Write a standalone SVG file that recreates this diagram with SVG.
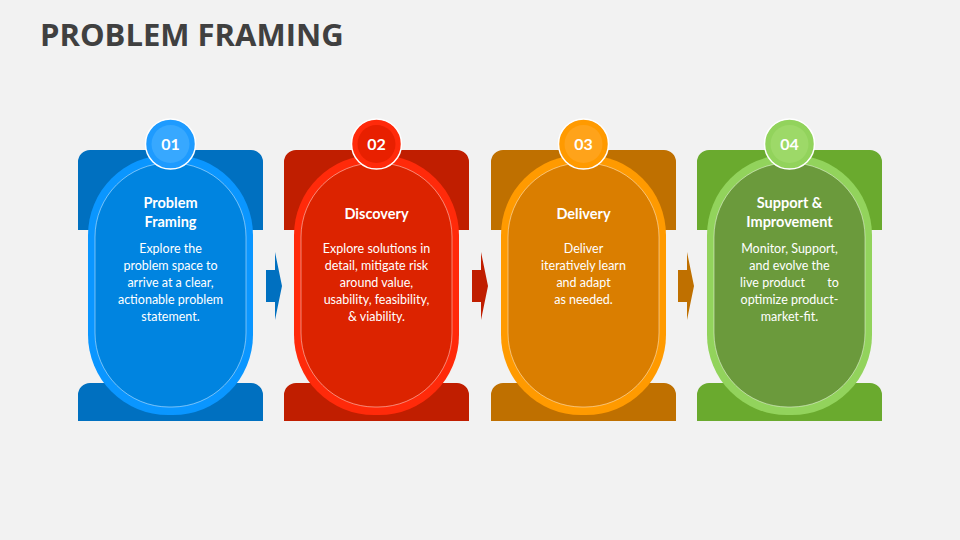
<svg xmlns="http://www.w3.org/2000/svg" width="960" height="540" viewBox="0 0 960 540">
<style>
text{font-family:Lato,"Open Sans","Liberation Sans",sans-serif;fill:#fff;text-anchor:middle}
.h{font-weight:bold;font-size:14.5px}
.b{font-size:12.5px}
.n{font-weight:bold;font-size:16px}
.in{fill:none;stroke:#fff;stroke-opacity:.45;stroke-width:1}
</style>
<defs>
<g id="card">
<path d="M0 162 a12 12 0 0 1 12 -12 h161 a12 12 0 0 1 12 12 v68 h-185z" class="bk"/>
<path d="M0 421 v-26 a12 12 0 0 1 12 -12 h161 a12 12 0 0 1 12 12 v26z" class="bk"/>
</g>
</defs>
<rect width="960" height="540" fill="#f2f2f2"/>
<text x="40" y="46" style="text-anchor:start;font-family:'Open Sans','Liberation Sans',sans-serif;font-weight:bold;font-size:31px;fill:#404040">PROBLEM FRAMING</text>
<g id="connectors">
<polygon points="266,270 275,270 275,252 282,286 275,320 275,302 266,302" fill="#0070C0"/>
<polygon points="472,270 481,270 481,252 488,286 481,320 481,302 472,302" fill="#C01E00"/>
<polygon points="678,270 687,270 687,252 694,286 687,320 687,302 678,302" fill="#BF7000"/>
</g>
<g id="node1">
<path d="M78 162 a12 12 0 0 1 12 -12 h161 a12 12 0 0 1 12 12 v68 h-185z M78 421 v-26 a12 12 0 0 1 12 -12 h161 a12 12 0 0 1 12 12 v26z" fill="#0070C0"/>
<rect x="88" y="155" width="165" height="260" rx="80" fill="#0A96FF"/>
<rect x="95" y="163" width="151" height="244" rx="74" fill="#0084E0" class="in" style="fill:#0084E0"/>
<circle cx="170.500" cy="144" r="25" fill="#1E9BFF" stroke="#fff" stroke-width="1.5"/>
<circle cx="170.500" cy="144" r="19" fill="#37A8FF"/>
<text x="170.500" y="150" class="n">01</text>
<text x="170.500" y="208" class="h">Problem</text>
<text x="170.500" y="227" class="h">Framing</text>
<text class="b" x="170.500" y="253">Explore the</text>
<text class="b" x="170.500" y="270">problem space to</text>
<text class="b" x="170.500" y="287">arrive at a clear,</text>
<text class="b" x="170.500" y="304">actionable problem</text>
<text class="b" x="170.500" y="321">statement.</text>
</g>
<g id="node2">
<path d="M284 162 a12 12 0 0 1 12 -12 h161 a12 12 0 0 1 12 12 v68 h-185z M284 421 v-26 a12 12 0 0 1 12 -12 h161 a12 12 0 0 1 12 12 v26z" fill="#C01E00"/>
<rect x="294" y="155" width="165" height="260" rx="80" fill="#FF2A0A"/>
<rect x="301" y="163" width="151" height="244" rx="74" class="in" style="fill:#DC2300"/>
<circle cx="376.500" cy="144" r="25" fill="#FF2A0A" stroke="#fff" stroke-width="1.5"/>
<circle cx="376.500" cy="144" r="19" fill="#E82000"/>
<text x="376.500" y="150" class="n">02</text>
<text x="376.500" y="219" class="h">Discovery</text>
<text class="b" x="376.500" y="253">Explore solutions in</text>
<text class="b" x="376.500" y="270">detail, mitigate risk</text>
<text class="b" x="376.500" y="287">around value,</text>
<text class="b" x="376.500" y="304">usability, feasibility,</text>
<text class="b" x="376.500" y="321">&amp; viability.</text>
</g>
<g id="node3">
<path d="M491 162 a12 12 0 0 1 12 -12 h161 a12 12 0 0 1 12 12 v68 h-185z M491 421 v-26 a12 12 0 0 1 12 -12 h161 a12 12 0 0 1 12 12 v26z" fill="#BF7000"/>
<rect x="501" y="155" width="165" height="260" rx="80" fill="#FF9A00"/>
<rect x="508" y="163" width="151" height="244" rx="74" class="in" style="fill:#DA7E00"/>
<circle cx="583.500" cy="144" r="25" fill="#FF9A00" stroke="#fff" stroke-width="1.5"/>
<circle cx="583.500" cy="144" r="19" fill="#FFA31A"/>
<text x="583.500" y="150" class="n">03</text>
<text x="583.500" y="219" class="h">Delivery</text>
<text class="b" x="583.500" y="253">Deliver</text>
<text class="b" x="583.500" y="270">iteratively learn</text>
<text class="b" x="583.500" y="287">and adapt</text>
<text class="b" x="583.500" y="304">as needed.</text>
</g>
<g id="node4">
<path d="M697 162 a12 12 0 0 1 12 -12 h161 a12 12 0 0 1 12 12 v68 h-185z M697 421 v-26 a12 12 0 0 1 12 -12 h161 a12 12 0 0 1 12 12 v26z" fill="#6AAA2E"/>
<rect x="707" y="155" width="165" height="260" rx="80" fill="#92D35C"/>
<rect x="714" y="163" width="151" height="244" rx="74" class="in" style="fill:#6B9A3C"/>
<circle cx="789.500" cy="144" r="25" fill="#92D35C" stroke="#fff" stroke-width="1.5"/>
<circle cx="789.500" cy="144" r="19" fill="#9DD968"/>
<text x="789.500" y="150" class="n">04</text>
<text x="789.500" y="208" class="h">Support &amp;</text>
<text x="789.500" y="227" class="h">Improvement</text>
<text class="b" x="789.500" y="253">Monitor, Support,</text>
<text class="b" x="789.500" y="270">and evolve the</text>
<text class="b" x="789.500" y="287" xml:space="preserve">live product       to</text>
<text class="b" x="789.500" y="304">optimize product-</text>
<text class="b" x="789.500" y="321">market-fit.</text>
</g>
</svg>
